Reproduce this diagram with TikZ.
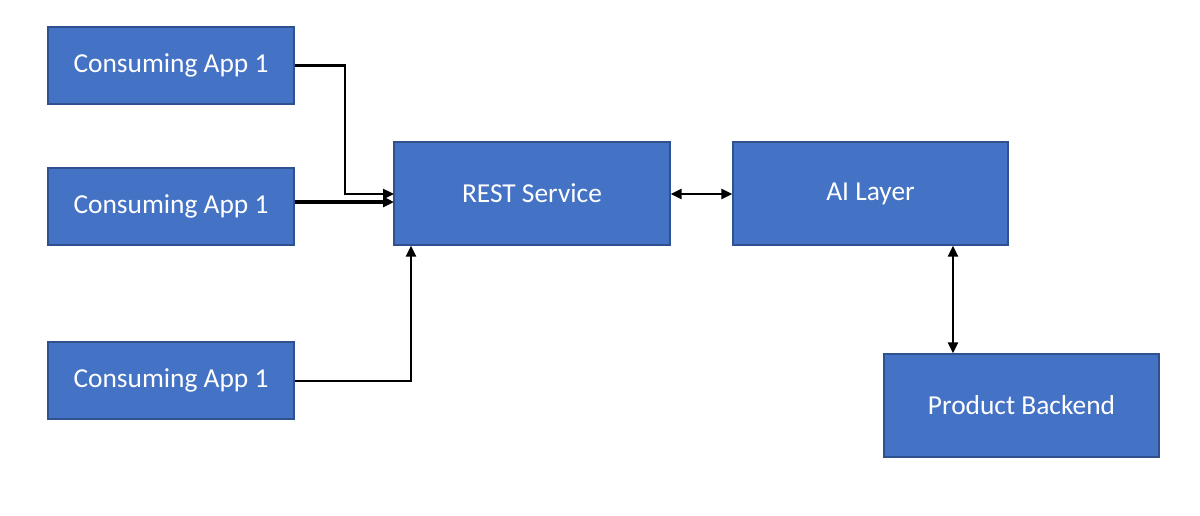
\documentclass[tikz,border=0pt]{standalone}
\usepackage{fontspec}
\setmainfont{Carlito}
\usetikzlibrary{arrows.meta}
\definecolor{boxfill}{HTML}{4472C4}
\definecolor{boxline}{HTML}{2F528F}
\begin{document}
\begin{tikzpicture}[x=1pt,y=-1pt,
  blk/.style={draw=boxline,line width=1.2pt,fill=boxfill,text=white,font=\fontsize{27.4}{32}\selectfont,inner sep=0pt},
  conn/.style={line width=2.4pt,-{Triangle[length=11pt,width=10pt]}},
  bconn/.style={line width=2.4pt,{Triangle[length=11pt,width=10pt]}-{Triangle[length=11pt,width=10pt]}}]
\useasboundingbox[fill=white] (0,0) rectangle (1200,515);
\node[blk,minimum width=246pt,minimum height=77pt] (a1) at (171,65.5) {Consuming App 1};
\node[blk,minimum width=246pt,minimum height=77pt] (a2) at (171,206.5) {Consuming App 1};
\node[blk,minimum width=246pt,minimum height=77pt] (a3) at (171,380.5) {Consuming App 1};
\node[blk,minimum width=276pt,minimum height=103pt] (rest) at (532,193.5) {REST Service};
\node[blk,minimum width=275pt,minimum height=103pt] (ai) at (870.5,193.5) {AI Layer};
\node[blk,minimum width=275pt,minimum height=103pt] (pb) at (1021.5,405.5) {Product Backend};
\coordinate (t1) at (394,194);
\coordinate (t2) at (394,202);
\draw[conn] (a1.east) -| (345,194) -- (t1);
\draw[conn,line width=3.4pt] (a2.east |- t2) -- (t2);
\draw[conn] (a3.east |- 0,381) -| (rest.south -| 411,0);
\draw[bconn] (rest.east |- 0,194) -- (ai.west |- 0,194);
\draw[bconn] (ai.south -| 953,0) -- (pb.north -| 953,0);
\end{tikzpicture}
\end{document}
